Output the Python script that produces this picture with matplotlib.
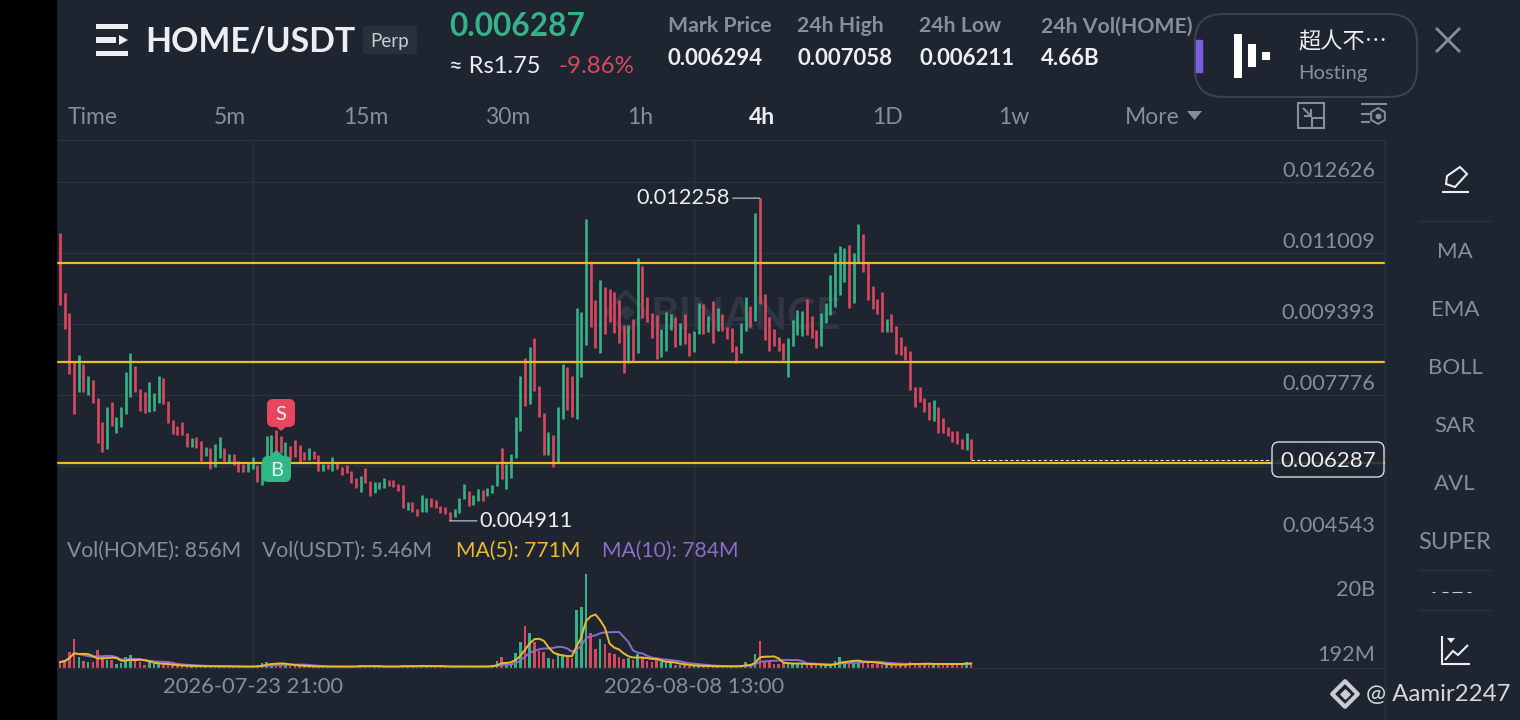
from matplotlib import pyplot as plt
from matplotlib.patches import FancyBboxPatch, Rectangle, Polygon
import numpy as np
import pandas as pd

plt.rcParams['font.family'] = ['Lato', 'Noto Sans CJK SC', 'DejaVu Sans']

# prices in millionths of USDT
opens = [
    11457, 10106, 9636, 8535, 7837, 8482, 7776, 8118, 7700, 7169,
    6547, 7624, 6903, 7040, 7344, 7723, 8444, 7913, 7837, 7397,
    7419, 7586, 8171, 7647, 7207, 7070, 7169, 6918, 6600, 6812,
    6736, 6387, 6562, 6129, 6349, 6562, 6220, 6425, 6281, 6205,
    6030, 6084, 6182, 5727, 6144, 6372, 6979, 6843, 6296, 6615,
    6751, 6638, 6486, 6296, 6509, 6410, 6046, 6205, 6053, 6258,
    6144, 6182, 6046, 5879, 5575, 6106, 5826, 5552, 5628, 5666,
    5841, 5841, 5750, 5727, 5158, 5332, 5180, 5104, 5120, 5438,
    5385, 5249, 5233, 5120, 4991, 5082, 5400, 5590, 5271, 5363,
    5613, 5476, 5537, 5704, 6562, 5628, 5879, 6334, 6956, 8611,
    7571, 9066, 7989, 7359, 6410, 6865, 6235, 7222, 8421, 8209,
    7222, 8194, 8915, 10812, 9939, 8725, 10243, 10182, 10129, 9939,
    9370, 8497, 9499, 8725, 10713, 10015, 9636, 9598, 8649, 8778,
    9256, 9560, 8915, 9613, 9180, 8763, 9158, 9841, 9218, 9924,
    9233, 9613, 9332, 9294, 8899, 8725, 9233, 9810, 9469, 12258,
    10068, 9545, 9271, 9104, 8968, 8178, 8892, 9142, 9127, 9962,
    9575, 9256, 8892, 9408, 9598, 9787, 10053, 10357, 11192, 9863,
    10812, 11442, 10774, 10266, 9962, 10129, 9218, 9621, 9355, 9104,
    8899, 8778, 7966, 7966, 7700, 7609, 7184, 7510, 7245, 7055,
    6964, 6964, 6774, 6524, 6767,
]
closes = [
    9825, 9271, 8247, 7344, 8687, 7837, 8216, 7602, 6691, 6471,
    7510, 7070, 7283, 7495, 8292, 8725, 7837, 7412, 7374, 8080,
    7814, 8209, 7571, 7131, 6881, 6865, 6865, 6600, 6789, 6562,
    6281, 6600, 6084, 6660, 6812, 6281, 6425, 6182, 6030, 6030,
    6220, 6372, 5788, 6258, 6843, 6865, 6372, 6448, 6698, 6296,
    6372, 6258, 6296, 6562, 6311, 6053, 6205, 6084, 6357, 6084,
    5955, 5992, 5780, 5666, 5939, 5765, 5476, 5788, 5788, 5879,
    5704, 5689, 5590, 5196, 5347, 5120, 5021, 5499, 5423, 5218,
    5196, 5082, 5067, 4911, 5173, 5423, 5750, 5256, 5499, 5628,
    5370, 5651, 5727, 6205, 5856, 6205, 6425, 7283, 8209, 7526,
    8877, 7867, 7268, 6410, 6941, 6144, 7510, 8482, 7435, 7268,
    9750, 9674, 11776, 9317, 8839, 10395, 9165, 9446, 9180, 8953,
    8269, 9370, 8558, 10888, 9522, 9446, 9066, 8588, 9271, 9674,
    9613, 8877, 9408, 8937, 8664, 9241, 9863, 9165, 9575, 8968,
    9765, 9233, 9051, 8763, 8497, 9408, 10015, 9332, 11913, 9841,
    9028, 8786, 8892, 8778, 8573, 9066, 9484, 9712, 9696, 9142,
    9066, 8839, 9636, 9863, 10509, 11002, 11169, 11116, 9750, 11002,
    11662, 10584, 9939, 9727, 9621, 9203, 9499, 9218, 8710, 8687,
    8573, 7890, 7510, 7624, 7397, 7207, 7662, 6903, 6903, 6843,
    6714, 6660, 6539, 6903, 6287,
]
# volume in millions of HOME
volumes = [
    1800, 2300, 4800, 8800, 3200, 2200, 1800, 1800, 5500, 3200,
    2500, 2500, 1300, 1500, 3200, 3800, 2000, 1800, 1000, 1700,
    1300, 1200, 1000, 800, 800, 600, 600, 600, 500, 600,
    500, 500, 500, 500, 500, 500, 400, 400, 400, 400,
    400, 500, 600, 1400, 1800, 1500, 1200, 1000, 1000, 700,
    600, 500, 500, 400, 400, 400, 400, 400, 400, 400,
    400, 400, 400, 500, 1000, 500, 400, 400, 400, 400,
    400, 400, 400, 1000, 500, 400, 400, 800, 800, 400,
    400, 400, 400, 400, 400, 400, 400, 400, 500, 400,
    400, 500, 800, 2000, 3300, 1000, 1300, 4500, 7800, 12700,
    10500, 7800, 5000, 4800, 3000, 2800, 4500, 4000, 3500, 3000,
    17500, 18300, 28200, 10500, 5800, 8800, 7200, 4500, 4200, 3200,
    2800, 3000, 2500, 4200, 3200, 2000, 1700, 2500, 1700, 1500,
    1500, 1000, 800, 800, 700, 600, 600, 500, 500, 500,
    500, 500, 500, 500, 500, 800, 1800, 800, 4200, 8200,
    2000, 1800, 1200, 1200, 1800, 1300, 1200, 1200, 1200, 1200,
    1200, 800, 800, 800, 1000, 2000, 3200, 1800, 1800, 2000,
    2200, 1800, 1500, 1300, 1200, 1000, 1000, 1000, 1000, 1000,
    1000, 1700, 1200, 1200, 1200, 1200, 1200, 1200, 1200, 1200,
    1200, 1200, 1200, 1800, 1300,
]
price_ticks = [0.012626, 0.011009, 0.009393, 0.007776, 0.006160, 0.004543]
level_lines = [0.010782, 0.008527, 0.006228]
last_price = 0.006287
high_price = 0.012258
low_price = 0.004911
high_index = 149
low_index = 83
date_ticks = [41, 135]
date_labels = ['2026-07-23 21:00', '2026-08-08 13:00']
vol_ticks = [20000, 192]
vol_labels = ['20B', '192M']
periods = ['5m', '15m', '30m', '1h', '4h', '1D', '1w']
period_pos = [230, 366, 508, 640, 762, 887, 1014]
indicators = ['MA', 'EMA', 'BOLL', 'SAR', 'AVL', 'SUPER']
indicator_pos = [251, 309, 367, 425, 483, 541]

BG = '#1e2530'
GRID = '#2b323d'
GREY = '#868e99'
WHITE = '#eceef1'
GREEN = '#35b387'
RED = '#d9485f'
YELLOW = '#ecb92f'
PURPLE = '#8b6cc6'
W, H = 1520, 720


def add_axes_px(fig, left, top, right, bottom):
    return fig.add_axes([left / W, 1 - bottom / H, (right - left) / W, (bottom - top) / H])


def style_chart_axes(ax):
    ax.set_facecolor('none')
    ax.set_xlim(-0.64, 282.1)
    for spine in ax.spines.values():
        spine.set_visible(False)
    ax.tick_params(length=0, labelleft=False, labelbottom=False)
    ax.set_axisbelow(True)
    ax.grid(True, color=GRID, lw=1)


fig = plt.figure(figsize=(W / 100, H / 100), dpi=100, facecolor=BG)

opens_p = np.array(opens) / 1e6
closes_p = np.array(closes) / 1e6
xs = np.arange(len(opens))
colors = [GREEN if c >= o else RED for o, c in zip(opens_p, closes_p)]

# candles
ax = add_axes_px(fig, 57, 140, 1385, 537)
style_chart_axes(ax)
ax.set_ylim(0.004543, 0.013582)
ax.set_yticks(price_ticks)
ax.set_xticks(date_ticks)
ax.text(146, 0.00957, 'BINANCE', color='#303742', fontsize=31, fontweight='bold',
        ha='center', va='center', zorder=1)
ax.scatter([120.5], [0.009666], marker='D', s=420, fc='none', ec='#303742', lw=3, zorder=1)
ax.scatter([120.5], [0.009666], marker='D', s=50, color='#303742', zorder=1)
ax.vlines(xs, np.minimum(opens_p, closes_p), np.maximum(opens_p, closes_p),
          colors=colors, lw=1.9, zorder=2)
for level in level_lines:
    ax.axhline(level, color=YELLOW, lw=1.6, zorder=3)
ax.plot([xs[-1], 263], [last_price, last_price], color='#d8dade', lw=0.8, ls=(0, (3, 2)), zorder=3)
for p in price_ticks:
    ax.annotate(f'{p:.6f}', (1, p), xycoords=ax.get_yaxis_transform(), xytext=(-7.2, 8),
                textcoords='offset points', ha='right', va='center', color='#3b424d' if p == 0.006160 else GREY,
                fontsize=15.6)
ax.annotate(f'{high_price:.6f}', (high_index, high_price), xytext=(-21.5, 0), textcoords='offset points',
            ha='right', va='center', color=WHITE, fontsize=15.7,
            arrowprops=dict(arrowstyle='-', color='#aab0b8', lw=1, shrinkA=0, shrinkB=0))
ax.annotate(f'{low_price:.6f}', (low_index, low_price), xytext=(21.5, 0), textcoords='offset points',
            ha='left', va='center', color=WHITE, fontsize=15.7,
            arrowprops=dict(arrowstyle='-', color='#aab0b8', lw=1, shrinkA=0, shrinkB=0))

# volume
vax = add_axes_px(fig, 57, 537, 1385, 668)
style_chart_axes(vax)
vax.set_ylim(0, 39300)
vax.set_yticks([])
vax.set_xticks(date_ticks)
vax.bar(xs, volumes, width=0.55, color=colors, zorder=2)
vol_series = pd.Series(volumes)
vax.plot(xs, vol_series.rolling(5, min_periods=1).mean(), color=YELLOW, lw=1.4, zorder=4)
vax.plot(xs, vol_series.rolling(10, min_periods=1).mean(), color=PURPLE, lw=1.4, zorder=3)
for value, label_text in zip(vol_ticks, vol_labels):
    vax.annotate(label_text, (1, value), xycoords=vax.get_yaxis_transform(), xytext=(-7.2, 8 if value > 1000 else 9),
                 textcoords='offset points', ha='right', va='center', color=GREY, fontsize=15.6)
for tick, label_text in zip(date_ticks, date_labels):
    vax.annotate(label_text, (tick, 0), xycoords=vax.get_xaxis_transform(), xytext=(0, -14),
                 textcoords='offset points', ha='center', va='center', color=GREY, fontsize=15.8)

# everything around the chart, in screen pixels
ui = fig.add_axes([0, 0, 1, 1], zorder=5)
ui.set_xlim(0, W)
ui.set_ylim(H, 0)
ui.axis('off')
ui.patch.set_alpha(0)


def label(x, y, s, color=GREY, size=15, ha='left', weight='normal'):
    ui.text(x, y + 1.5, s, color=color, fontsize=size, ha=ha, va='center', fontweight=weight)


def box(x0, y0, x1, y1, face, edge='none', radius=4, lw=1.0, z=2):
    ui.add_patch(FancyBboxPatch((x0 + radius, y0 + radius), x1 - x0 - 2 * radius, y1 - y0 - 2 * radius,
                                boxstyle=f'round,pad={radius},rounding_size={radius}', fc=face, ec=edge, lw=lw, zorder=z))


def seg(xs_, ys_, color=GREY, lw=1.5):
    ui.plot(xs_, ys_, color=color, lw=lw, solid_capstyle='butt', solid_joinstyle='miter')


ui.add_patch(Rectangle((0, 0), 56, H, color='black', zorder=1))
seg([1385, 1385], [140, H], GRID, 1)
seg([57, 1385], [140, 140], GRID, 1)
seg([57, 1385], [668, 668], GRID, 1)

# header
for y0, y1, x1 in [(24, 29, 128), (37, 43, 116), (51, 56, 128)]:
    ui.add_patch(Rectangle((96, y0), x1 - 96, y1 - y0, color=WHITE, lw=0))
ui.add_patch(Polygon([[119, 35], [119, 45], [128, 40]], color=WHITE, lw=0))
label(145, 40, 'HOME/USDT', WHITE, 24.4, weight='bold')
box(363, 26, 417, 54, '#2a313c', radius=3)
ui.text(390, 41, 'Perp', color='#c9cdd3', fontsize=13.5, ha='center', va='center', zorder=3)
label(449, 25, '0.006287', GREEN, 22.8, weight='bold')
label(449, 65, '≈ Rs1.75', WHITE, 17)
label(558, 65, '-9.86%', RED, 17.4)
for x, name, val in [(668, 'Mark Price', '0.006294'), (797, '24h High', '0.007058'),
                     (919, '24h Low', '0.006211'), (1041, '24h Vol(HOME)', '4.66B')]:
    label(x, 25, name, GREY, 15.3, weight='bold')
    label(x, 57, val, WHITE, 16, weight='bold')

# period row
label(68, 116, 'Time', GREY, 16.5)
for x, name in zip(period_pos, periods):
    if name == '4h':
        label(x, 116, name, WHITE, 16.5, ha='center', weight='bold')
    else:
        label(x, 116, name, GREY, 16.5, ha='center')
label(1125, 116, 'More', GREY, 16.5)
ui.add_patch(Polygon([[1187, 111], [1202, 111], [1194.5, 120]], color=GREY, lw=0))
ui.add_patch(Rectangle((1298, 103), 26, 25, fc='none', ec=GREY, lw=1.5))
ui.add_patch(Rectangle((1312, 118), 12, 10, fc=BG, ec=GREY, lw=1.5, zorder=3))
seg([1303, 1311], [108, 116], GREY, 1.5)
seg([1304, 1311, 1311], [116, 116, 109], GREY, 1.5)
seg([1361, 1387], [104, 104], GREY, 1.5)
seg([1361, 1370], [114, 114], GREY, 1.5)
seg([1361, 1370], [122, 122], GREY, 1.5)
ui.scatter([1378], [116], s=130, marker='h', fc='none', ec=GREY, lw=1.4)
ui.scatter([1378], [116], s=10, marker='o', color=GREY)

# hosting pill
box(1195, 14, 1417, 97, BG, edge='#3b424d', radius=28, lw=1.5)
ui.add_patch(Rectangle((1196, 40), 6, 32, color='#7b5ce0', zorder=3))
for x0, y0, y1 in [(1234, 34, 78), (1248, 44, 67), (1262, 52, 60)]:
    ui.add_patch(Rectangle((x0, y0), 8, y1 - y0, color='white', lw=0, zorder=3))
ui.text(1298, 42, '超人不⋯', color=WHITE, fontsize=16, ha='left', va='center', zorder=3,
        family=['Noto Sans CJK SC', 'DejaVu Sans'])
ui.text(1298, 73, 'Hosting', color=GREY, fontsize=14.5, ha='left', va='center', zorder=3)
seg([1436, 1460], [28, 52], GREY, 2)
seg([1436, 1460], [52, 28], GREY, 2)

# right panel
ui.add_patch(Polygon([[1446, 184], [1447, 176], [1460, 167], [1467, 174], [1455, 187]], fc='none', ec=WHITE, lw=1.5))
seg([1442, 1469], [192, 192], WHITE, 1.5)
for y in [221, 570, 610]:
    seg([1418, 1492], [y, y], GRID, 1)
for y, name in zip(indicator_pos, indicators):
    label(1455, y, name, GREY, 17 if name == 'SUPER' else 16, ha='center')
seg([1432, 1435], [592, 592], '#c9cdd3', 0.8)
seg([1442, 1448], [592, 592], '#c9cdd3', 0.8)
seg([1452, 1462], [592, 592], '#c9cdd3', 0.8)
seg([1467, 1471], [592, 592], '#c9cdd3', 0.8)
seg([1442, 1442, 1470], [636, 664, 664], WHITE, 1.5)
seg([1445, 1453, 1458, 1468], [660, 651, 655, 645], WHITE, 1.5)
ui.add_patch(Polygon([[1447, 638], [1455, 638], [1451, 643]], color=WHITE, lw=0))

# volume legend
label(67, 549.5, 'Vol(HOME): 856M', GREY, 15.2)
label(262, 549.5, 'Vol(USDT): 5.46M', GREY, 15.2)
label(456, 549.5, 'MA(5): 771M', YELLOW, 15.2)
label(602, 549.5, 'MA(10): 784M', PURPLE, 15.2)

# last price tag
box(1272, 442, 1384, 477, (0.118, 0.145, 0.188, 0.85), edge='#d8dade', radius=7, lw=1.0)
ui.text(1328, 461, '0.006287', color=WHITE, fontsize=16, ha='center', va='center', zorder=3)

# buy / sell flags
ui.add_patch(Polygon([[274, 425], [288, 425], [281, 431]], color='#e8455f', lw=0, zorder=3))
box(267, 399, 295, 427, '#e8455f', radius=6, z=3)
ui.text(281, 414, 'S', color=WHITE, fontsize=14.5, ha='center', va='center', zorder=4)
ui.add_patch(Polygon([[266, 459], [287, 459], [276.5, 450]], color='#2fb886', lw=0, zorder=3))
box(262, 456, 291, 482, '#2fb886', radius=6, z=3)
ui.text(276.5, 471, 'B', color=WHITE, fontsize=14.5, ha='center', va='center', zorder=4)

# watermark
ui.scatter([1345], [694], marker='D', s=170, fc='none', ec='#c9cdd3', lw=3)
ui.scatter([1345], [694], marker='D', s=22, color='#c9cdd3')
label(1366, 692.5, '@ Aamir2247', '#d5d7da', 17.3)

fig.savefig('out.png', dpi=100, facecolor=BG)
